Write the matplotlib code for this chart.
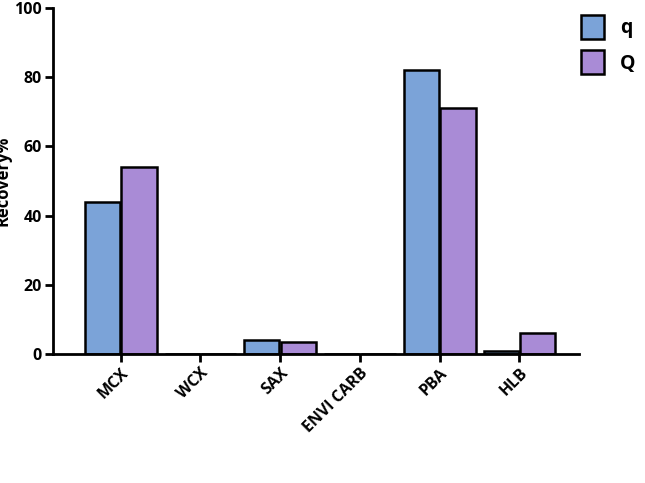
import numpy as np
import matplotlib
matplotlib.use('Agg')
import matplotlib.pyplot as plt

categories = ['MCX', 'WCX', 'SAX', 'ENVI CARB', 'PBA', 'HLB']
q_vals = [44, 0, 4, 0, 82, 0.8]
Q_vals = [54, 0, 3.5, 0, 71, 6]

plt.rcParams['font.family'] = ['Open Sans', 'DejaVu Sans']
plt.rcParams['font.weight'] = 'bold'

fig = plt.figure(figsize=(6.45, 4.83), dpi=100)
ax = fig.add_axes([0.082, 0.267, 0.816, 0.717])

x = np.arange(len(categories))
w = 0.44
ax.bar(x - w / 2 - 0.01, q_vals, w, color='#7BA3D8', edgecolor='black', linewidth=1.8, label='q')
ax.bar(x + w / 2 + 0.01, Q_vals, w, color='#A98BD6', edgecolor='black', linewidth=1.8, label='Q')

ax.set_ylim(0, 100)
ax.set_xlim(-0.85, 5.75)
ax.set_yticks([0, 20, 40, 60, 80, 100])
ax.set_xticks(x)
ax.set_xticklabels(categories, rotation=45, ha='right', rotation_mode='anchor')
ax.set_ylabel('Recovery%', fontsize=12, fontweight='bold', labelpad=2)
ax.tick_params(labelsize=11.5, width=2, length=6, pad=2)
for s in ['top', 'right']:
    ax.spines[s].set_visible(False)
for s in ['left', 'bottom']:
    ax.spines[s].set_linewidth(2)

leg = ax.legend(loc='upper left', bbox_to_anchor=(0.97, 1.03), frameon=False,
                fontsize=14, handlelength=1.2, handleheight=1.5, labelspacing=0.6)
for t in leg.get_texts():
    t.set_fontweight('bold')

fig.savefig('out.png', dpi=100)
